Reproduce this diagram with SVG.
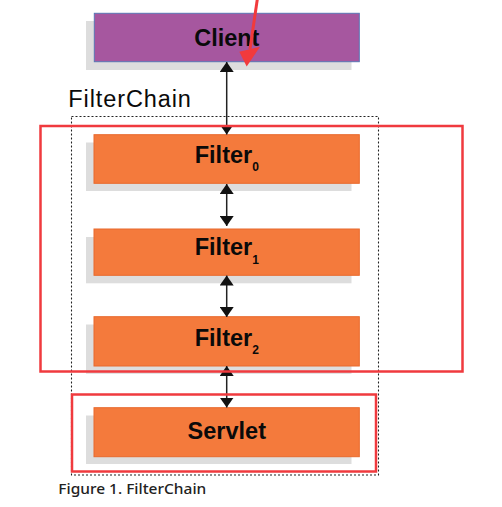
<svg xmlns="http://www.w3.org/2000/svg" width="502" height="507" viewBox="0 0 502 507">
<style>
.shadow{fill:#dddddd}
.filt{fill:#f47a3c;stroke:#e8692c;stroke-width:1}
.client{fill:#a6579f;stroke:#5b76b5;stroke-width:1}
.lbl{font-family:"Liberation Sans",Arial,sans-serif;font-weight:bold;font-size:23.5px;fill:#0a0a0a;text-anchor:middle}
.sub{font-size:12px}
.conn{stroke:#222;stroke-width:1.5;fill:none;marker-start:url(#ah);marker-end:url(#ah)}
.hl{fill:none;stroke:#f03a3e;stroke-width:2.5}
</style>
<defs>
<marker id="ah" viewBox="0 0 10 14" markerUnits="userSpaceOnUse" markerWidth="10" markerHeight="14" refX="10" refY="7" orient="auto-start-reverse">
<path d="M0,0 L10,7 L0,14 z" fill="#111"/>
</marker>
</defs>
<rect width="502" height="507" fill="#ffffff"/>

<g id="filterchain">
<rect x="71.5" y="116.5" width="307" height="358.5" fill="none" stroke="#222" stroke-width="1.1" stroke-dasharray="2,2"/>
<text x="68.3" y="106.5" font-family="'Liberation Sans',Arial,sans-serif" font-size="23.5" fill="#0a0a0a" letter-spacing="0.9">FilterChain</text>
</g>

<g id="client">
<rect class="shadow" x="86" y="21" width="265.5" height="49"/>
<rect class="client" x="94.3" y="13.3" width="265" height="48.4"/>
<text class="lbl" x="226.8" y="45.5">Client</text>
</g>

<g id="filter0">
<rect class="shadow" x="86" y="142.5" width="265.5" height="48.5"/>
<rect class="filt" x="94" y="134.7" width="265.3" height="48.6"/>
<text class="lbl" x="226.8" y="163.3">Filter<tspan class="sub" dy="8">0</tspan></text>
</g>

<g id="filter1">
<rect class="shadow" x="86" y="237" width="265.5" height="46.3"/>
<rect class="filt" x="94" y="229" width="265.3" height="46.3"/>
<text class="lbl" x="226.8" y="255">Filter<tspan class="sub" dy="8.5">1</tspan></text>
</g>

<g id="filter2">
<rect class="shadow" x="86" y="324.5" width="265.5" height="49.3"/>
<rect class="filt" x="94" y="316.7" width="265.3" height="49.3"/>
<text class="lbl" x="226.8" y="345.7">Filter<tspan class="sub" dy="8.3">2</tspan></text>
</g>

<g id="servlet">
<rect class="shadow" x="86" y="415.5" width="265.5" height="48.5"/>
<rect class="filt" x="94" y="407.7" width="265.3" height="49"/>
<text class="lbl" x="226.8" y="438.5">Servlet</text>
</g>

<g id="connectors">
<line class="conn" x1="226.7" y1="62" x2="226.7" y2="134.5"/>
<line class="conn" x1="226.7" y1="184" x2="226.7" y2="226"/>
<line class="conn" x1="226.7" y1="275.5" x2="226.7" y2="317"/>
<line class="conn" x1="226.7" y1="366" x2="226.7" y2="407.5"/>
</g>

<g id="highlights">
<rect class="hl" x="40.5" y="126" width="422" height="245.5"/>
<rect class="hl" x="72" y="394.5" width="304" height="77"/>
<line x1="257.5" y1="-2" x2="250" y2="49" stroke="#f23a3c" stroke-width="3"/>
<polygon points="239.3,51.7 260,46.7 246.7,66.5" fill="#f23a3c"/>
</g>

<text id="caption" x="58.3" y="494" font-family="'Noto Sans','Open Sans',sans-serif" font-size="14" font-weight="500" fill="#222" textLength="148" lengthAdjust="spacingAndGlyphs">Figure 1. FilterChain</text>
</svg>
